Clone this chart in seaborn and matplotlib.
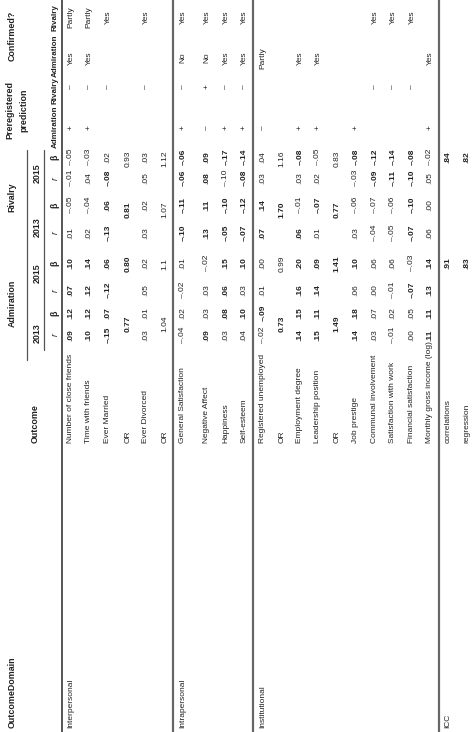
import matplotlib
matplotlib.use("Agg")
import matplotlib.pyplot as plt
import seaborn as sns

# --- table data ---
outcome_domains = ["Interpersonal", "", "", "", "", "",
                   "Intrapersonal", "", "", "",
                   "Institutional", "", "", "", "", "", "", "", "", "",
                   "ICC", ""]
outcomes = ["Number of close friends", "Time with friends", "Ever Married", "OR",
            "Ever Divorced", "OR",
            "General Satisfaction", "Negative Affect", "Happiness", "Self-esteem",
            "Registered unemployed", "OR", "Employment degree", "Leadership position", "OR",
            "Job prestige", "Communal involvement", "Satisfaction with work",
            "Financial satisfaction", "Monthly gross income (log)",
            "correlations", "regression"]
N = None
adm13_r = [.09, .10, -.15, N, .03, N, -.04, .09, .03, .04, -.02, N, .14, .15, N, .14, .03, -.01, .00, .11, N, N]
adm13_b = [.12, .12, .07, N, .01, N, .02, .03, .08, .10, -.09, N, .15, .11, N, .18, .07, .02, .05, .11, N, N]
adm15_r = [.07, .12, -.12, N, .05, N, -.02, .03, .06, .03, .01, N, .16, .14, N, .06, .00, -.01, -.07, .13, N, N]
adm15_b = [.10, .14, .06, N, .02, N, .01, -.02, .15, .10, .00, N, .20, .09, N, .10, .06, .06, -.03, .14, .91, .83]
riv13_r = [.01, .02, -.13, N, .03, N, -.10, .13, -.05, -.07, .07, N, .06, .01, N, .03, -.04, -.05, -.07, .06, N, N]
riv13_b = [-.05, -.04, .06, N, .02, N, -.11, .11, -.10, -.12, .14, N, -.01, -.07, N, -.06, -.07, -.06, -.10, .00, N, N]
riv15_r = [-.01, .04, -.08, N, .05, N, -.06, .08, -.10, -.08, .03, N, .03, .02, N, -.03, -.09, -.11, -.10, .05, N, N]
riv15_b = [-.05, -.03, .02, N, .03, N, -.06, .09, -.17, -.14, .04, N, -.08, -.05, N, -.08, -.12, -.14, -.08, -.02, .84, .82]

adm13_r_bold = [1, 1, 1, 0, 0, 0, 0, 1, 0, 0, 0, 0, 1, 1, 0, 1, 0, 0, 0, 1, 0, 0]
adm13_b_bold = [1, 1, 1, 0, 0, 0, 0, 0, 1, 1, 1, 0, 1, 1, 0, 1, 0, 0, 0, 1, 0, 0]
adm15_r_bold = [1, 1, 1, 0, 0, 0, 0, 0, 1, 0, 0, 0, 1, 1, 0, 0, 0, 0, 1, 1, 0, 0]
adm15_b_bold = [1, 1, 1, 0, 0, 0, 0, 0, 1, 1, 0, 0, 1, 1, 0, 1, 0, 0, 0, 1, 1, 1]
riv13_r_bold = [0, 0, 1, 0, 0, 0, 1, 1, 1, 1, 1, 0, 1, 0, 0, 0, 0, 0, 1, 0, 0, 0]
riv13_b_bold = [0, 0, 1, 0, 0, 0, 1, 1, 1, 1, 1, 0, 0, 1, 0, 0, 0, 0, 1, 0, 0, 0]
riv15_r_bold = [0, 0, 1, 0, 0, 0, 1, 1, 0, 1, 0, 0, 0, 0, 0, 0, 1, 1, 1, 0, 0, 0]
riv15_b_bold = [0, 0, 0, 0, 0, 0, 1, 1, 1, 1, 0, 0, 1, 0, 0, 1, 1, 1, 1, 0, 1, 1]

# odds ratios (rows labelled "OR")
or_rows = [3, 5, 11, 14]
or_adm13 = ["0.77", "1.04", "0.73", "1.49"]
or_adm15 = ["0.80", "1.1", "0.99", "1.41"]
or_riv13 = ["0.81", "1.07", "1.70", "0.77"]
or_riv15 = ["0.93", "1.12", "1.16", "0.83"]
or_adm13_bold = [1, 0, 1, 1]
or_adm15_bold = [1, 0, 0, 1]
or_riv13_bold = [1, 0, 1, 1]
or_riv15_bold = [0, 0, 0, 0]

pred_adm = ["+", "+", "", "", "", "", "+", "–", "+", "+", "–", "", "+", "+", "", "+", "", "", "", "+", "", ""]
pred_riv = ["–", "–", "–", "", "–", "", "–", "+", "–", "–", "", "", "", "", "", "", "–", "–", "–", "", "", ""]
conf_adm = ["Yes", "Yes", "", "", "", "", "No", "No", "Yes", "Yes", "Partly", "", "Yes", "Yes", "", "", "", "", "", "Yes", "", ""]
conf_riv = ["Partly", "Partly", "Yes", "", "Yes", "", "Yes", "Yes", "Yes", "Yes", "", "", "", "", "", "", "Yes", "Yes", "Yes", "", "", ""]

# --- layout (table is printed rotated by 90 degrees) ---
row_x = [71, 89, 108, 128, 146, 165, 183, 207, 226, 244, 263, 282, 300, 318, 337,
         356, 375, 393, 412, 430, 448, 467]
rules = [173, 253, 439]
col_y = {"adm13_r": 335, "adm13_b": 313, "adm15_r": 290, "adm15_b": 263,
         "riv13_r": 233, "riv13_b": 205, "riv15_r": 178, "riv15_b": 157,
         "pred_adm": 128, "pred_riv": 87, "conf_adm": 58, "conf_riv": 17}
or_y = [324, 264, 210, 159]

sns.set_theme(style="white")
plt.rcParams["font.family"] = ["Liberation Sans", "DejaVu Sans"]
FS = 6.0
HFS = 6.4
TXT = "#222222"

fig = plt.figure(figsize=(4.74, 7.32), dpi=100)
ax = fig.add_axes([0, 0, 1, 1])
ax.set_xlim(0, 474)
ax.set_ylim(732, 0)
ax.set_axis_off()


def put(x, y, s, bold=False, va="center", size=FS):
    ax.text(x, y, s, rotation=90, ha="center", va=va, fontsize=size,
            fontweight="bold" if bold else "normal", color=TXT)


def fmt(v):
    s = f"{abs(v):.2f}".lstrip("0")
    return ("–" + s) if v < 0 else s


# header
put(12, 728, "OutcomeDomain", bold=True, va="bottom", size=HFS)
put(35, 443, "Outcome", bold=True, va="bottom", size=HFS)
put(12, 303, "Admiration", bold=True, size=HFS)
put(12, 197, "Rivalry", bold=True, size=HFS)
put(10, 110, "Preregistered", bold=True, size=HFS)
put(24, 110, "prediction", bold=True, size=HFS)
put(12, 36, "Confirmed?", bold=True, size=HFS)
for y, s in [(333, "2013"), (273, "2015"), (227, "2013"), (173, "2015")]:
    put(37, y, s, bold=True, size=HFS)
for key in ["adm13", "adm15", "riv13", "riv15"]:
    ax.text(55, col_y[key + "_r"], "r", rotation=90, ha="center", va="center",
            fontsize=HFS, fontstyle="italic", color=TXT)
    put(55, col_y[key + "_b"], "β", bold=True, size=HFS)
for y, s in [(127, "Admiration"), (91, "Rivalry"), (56, "Admiration"), (18, "Rivalry")]:
    put(55, y, s, bold=True, size=5.8)

ax.plot([27, 27], [360, 150], color="#555555", lw=0.9)
ax.plot([44, 44], [350, 150], color="#555555", lw=0.9)
ax.plot([62, 62], [732, 0], color="#555555", lw=1.4)
for r in rules:
    ax.plot([r, r], [732, 0], color="#666666", lw=1.6)

# body
for i, x in enumerate(row_x):
    if outcome_domains[i]:
        put(x, 728, outcome_domains[i], va="bottom")
    put(x, 443, outcomes[i], va="bottom")
    cols = [("adm13_r", adm13_r, adm13_r_bold), ("adm13_b", adm13_b, adm13_b_bold),
            ("adm15_r", adm15_r, adm15_r_bold), ("adm15_b", adm15_b, adm15_b_bold),
            ("riv13_r", riv13_r, riv13_r_bold), ("riv13_b", riv13_b, riv13_b_bold),
            ("riv15_r", riv15_r, riv15_r_bold), ("riv15_b", riv15_b, riv15_b_bold)]
    for key, vals, bolds in cols:
        if vals[i] is not None:
            put(x, col_y[key], fmt(vals[i]), bold=bool(bolds[i]))
    for key, vals in [("pred_adm", pred_adm), ("pred_riv", pred_riv),
                      ("conf_adm", conf_adm), ("conf_riv", conf_riv)]:
        if vals[i]:
            put(x, col_y[key], vals[i])

for j, r in enumerate(or_rows):
    for y, vals, bolds in [(or_y[0], or_adm13, or_adm13_bold), (or_y[1], or_adm15, or_adm15_bold),
                           (or_y[2], or_riv13, or_riv13_bold), (or_y[3], or_riv15, or_riv15_bold)]:
        put(row_x[r], y, vals[j], bold=bool(bolds[j]))

fig.savefig("out.png", dpi=100)
